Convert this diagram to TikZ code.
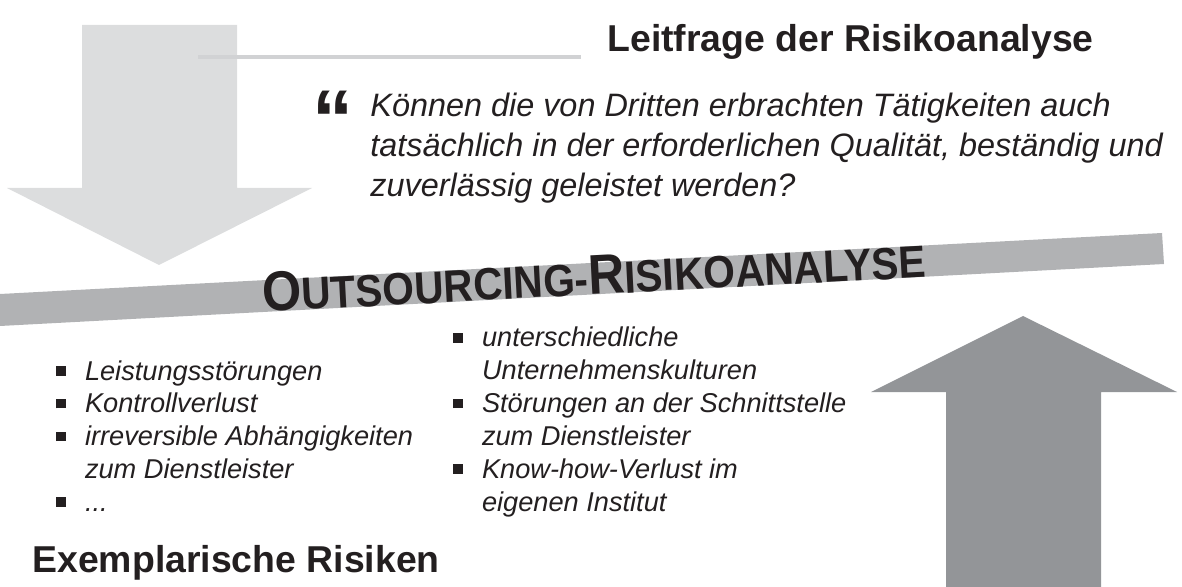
\documentclass[tikz,border=0pt]{standalone}
\usepackage{fontspec}
\setmainfont{Liberation Sans}
\usepackage{xcolor}
\usetikzlibrary{positioning}

\definecolor{arrowlight}{HTML}{DCDDDE}
\definecolor{linegray}{HTML}{D1D2D4}
\definecolor{bargray}{HTML}{B1B2B4}
\definecolor{arrowdark}{HTML}{939598}
\definecolor{textdark}{HTML}{231F20}

\newcommand{\sqbullet}{\rule[2.2pt]{4.8pt}{4.8pt}}

\begin{document}
\begin{tikzpicture}[x=0.5pt,y=-0.5pt,
  every node/.style={inner sep=0pt,text=textdark},
  headline/.style={font=\bfseries\fontsize{18.7}{22}\selectfont},
  itemtext/.style={font=\itshape\fontsize{13.6}{16.4}\selectfont}]
\useasboundingbox (0,0) rectangle (1182,587);
% arrows and bar
\fill[arrowlight] (82,25) -- (237,25) -- (237,188) -- (312,188) -- (159,265)
  -- (7,188) -- (82,188) -- cycle;
\draw[linegray,line width=2pt] (198,57) -- (581,57);
\fill[bargray] (0,294) -- (1162,233) -- (1164,264) -- (0,326) -- cycle;
\fill[arrowdark] (946,587) -- (946,392) -- (871,392) -- (1023,316) -- (1177,392)
  -- (1101,392) -- (1101,587) -- cycle;
% texts
\node[headline,anchor=base west] (leitfrage) at (607,52) {Leitfrage der Risikoanalyse};
\node[anchor=base west,font=\bfseries\fontsize{41}{41}\selectfont] (quotemark) at (312,148) {“};
\node[anchor=base west,font=\itshape\fontsize{16.2}{20}\selectfont] (quotetext) at (370,117)
  {\begin{tabular}[t]{@{}l@{}}
   Können die von Dritten erbrachten Tätigkeiten auch\\
   tatsächlich in der erforderlichen Qualität, beständig und\\
   zuverlässig geleistet werden?
   \end{tabular}};
\node[anchor=base west,rotate=3,font=\bfseries] (title) at (263,312)
  {\scalebox{0.9}[1]{\fontsize{28}{28}\selectfont O\fontsize{22.6}{23}\selectfont UTSOURCING-\fontsize{28}{28}\selectfont R\fontsize{22.6}{23}\selectfont ISIKOANALYSE}};
\node[itemtext,anchor=base west] (risksleft) at (56,380)
  {\begin{tabular}[t]{@{}l@{\hspace{9.5pt}}l@{}}
   \sqbullet & Leistungsstörungen\\
   \sqbullet & Kontrollverlust\\
   \sqbullet & irreversible Abhängigkeiten\\
             & zum Dienstleister\\
   \sqbullet & ...
   \end{tabular}};
\node[itemtext,anchor=base west] (risksmid) at (453,347)
  {\begin{tabular}[t]{@{}l@{\hspace{9.5pt}}l@{}}
   \sqbullet & unterschiedliche\\
             & Unternehmenskulturen\\
   \sqbullet & Störungen an der Schnittstelle\\
             & zum Dienstleister\\
   \sqbullet & Know-how-Verlust im\\
             & eigenen Institut
   \end{tabular}};
\node[headline,anchor=base west] (exemplar) at (32,572) {Exemplarische Risiken};
\end{tikzpicture}
\end{document}
